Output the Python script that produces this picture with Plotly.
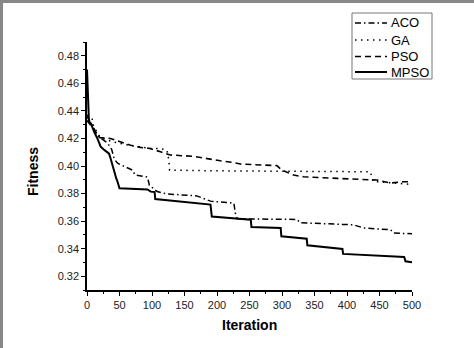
import plotly.graph_objects as go

# ---------------- data ----------------
aco_x = [0, 5, 10, 16, 24, 32, 38, 42, 47, 60, 70, 74, 93, 96, 108, 123, 169, 190, 226, 228, 231, 323, 328, 410, 426, 467, 472, 500]
aco_y = [0.436, 0.432, 0.428, 0.422, 0.419, 0.4165, 0.412, 0.405, 0.402, 0.3995, 0.397, 0.3935, 0.392, 0.386, 0.3815, 0.3797, 0.3783, 0.3745, 0.373, 0.366, 0.3617, 0.3612, 0.3588, 0.3573, 0.355, 0.3537, 0.3513, 0.3508]

ga_x = [0, 5, 8, 10, 15, 20, 30, 40, 60, 80, 97, 113, 123, 126, 127, 200, 300, 436, 440, 460, 480, 500]
ga_y = [0.437, 0.435, 0.434, 0.429, 0.425, 0.421, 0.419, 0.4175, 0.4155, 0.414, 0.4127, 0.4127, 0.4115, 0.404, 0.397, 0.3965, 0.396, 0.3958, 0.3888, 0.388, 0.3875, 0.3866]

pso_x = [0, 5, 10, 15, 20, 36, 51, 67, 82, 97, 113, 128, 164, 190, 205, 226, 236, 292, 300, 318, 333, 385, 431, 446, 467, 487, 500]
pso_y = [0.433, 0.43, 0.427, 0.424, 0.4206, 0.42, 0.4178, 0.4151, 0.4135, 0.4127, 0.4103, 0.408, 0.407, 0.4047, 0.4038, 0.4025, 0.4014, 0.4003, 0.397, 0.3934, 0.3922, 0.391, 0.3903, 0.3898, 0.3876, 0.3886, 0.3886]

mpso_x = [0, 1, 2, 3, 6, 11, 16, 21, 27, 34, 37, 42, 45, 47, 50, 93, 98, 104, 105, 190, 192, 252, 253, 298, 299, 338, 339, 393, 394, 488, 490, 500]
mpso_y = [0.47, 0.455, 0.44, 0.432, 0.431, 0.4247, 0.42, 0.414, 0.4115, 0.409, 0.4043, 0.3947, 0.391, 0.3886, 0.3838, 0.383, 0.3814, 0.3812, 0.376, 0.372, 0.3633, 0.361, 0.3557, 0.355, 0.349, 0.3472, 0.3424, 0.3398, 0.3362, 0.334, 0.3308, 0.3301]

series_names = ["ACO", "GA", "PSO", "MPSO"]

x_ticks = [0, 50, 100, 150, 200, 250, 300, 350, 400, 450, 500]
y_ticks = [0.32, 0.34, 0.36, 0.38, 0.40, 0.42, 0.44, 0.46, 0.48]

# ---------------- layout geometry (pixels) ----------------
W, H = 474, 348
PL, PR, PT, PB = 87, 412, 42, 290  # plot area edges

def px_to_paper_x(px):
    return (px - PL) / (PR - PL)

def px_to_paper_y(py):
    return (PB - py) / (PB - PT)

styles = {
    "ACO": dict(dash="6px,3px,1.5px,3px", width=1.5),
    "GA": dict(dash="1.5px,4.5px", width=1.5),
    "PSO": dict(dash="6px,4px", width=1.6),
    "MPSO": dict(dash="solid", width=2),
}

fig = go.Figure()
for name, xs, ys in zip(series_names, [aco_x, ga_x, pso_x, mpso_x], [aco_y, ga_y, pso_y, mpso_y]):
    st = styles[name]
    fig.add_trace(go.Scatter(x=xs, y=ys, mode="lines", name=name, showlegend=False,
                             line=dict(color="black", width=st["width"], dash=st["dash"])))

font_family = "Liberation Sans, Arial, sans-serif"

fig.update_layout(
    width=W, height=H,
    margin=dict(l=PL, r=W - PR, t=PT, b=H - PB),
    paper_bgcolor="white", plot_bgcolor="white",
    font=dict(family=font_family, color="#222"),
    xaxis=dict(range=[0, 500], tickvals=x_ticks, ticks="outside", ticklen=4, tickwidth=1.2,
               tickcolor="black", showline=True, linecolor="black", linewidth=1.5,
               showgrid=False, zeroline=False, tickfont=dict(size=11, color="#222"),
               minor=dict(dtick=25, tick0=0, ticks="outside", ticklen=2, tickwidth=1, tickcolor="black")),
    yaxis=dict(range=[0.31, 0.49], tickvals=y_ticks, tickformat=".2f", ticks="outside", ticklen=4,
               tickwidth=1.2, tickcolor="black", showline=True, linecolor="black", linewidth=1.5,
               showgrid=False, zeroline=False, tickfont=dict(size=11, color="#222"),
               minor=dict(dtick=0.01, tick0=0.31, ticks="outside", ticklen=2, tickwidth=1, tickcolor="black")),
    showlegend=False,
)

shapes = []
annotations = []

# axis titles
annotations.append(dict(text="<b>Iteration</b>", x=px_to_paper_x(250), y=px_to_paper_y(325),
                        xanchor="center", yanchor="middle",
                        xref="paper", yref="paper", showarrow=False, font=dict(size=14, color="black")))
annotations.append(dict(text="<b>Fitness</b>", x=px_to_paper_x(33), y=px_to_paper_y(172),
                        xanchor="center", yanchor="middle",
                        xref="paper", yref="paper", showarrow=False, textangle=-90,
                        font=dict(size=14, color="black")))

# legend box
shapes.append(dict(type="rect", xref="paper", yref="paper",
                   x0=px_to_paper_x(352), x1=px_to_paper_x(432),
                   y0=px_to_paper_y(79), y1=px_to_paper_y(13),
                   line=dict(color="#777", width=1), fillcolor="white"))
row_y = [23, 40, 56.5, 72]
for name, ry in zip(series_names, row_y):
    st = styles[name]
    shapes.append(dict(type="line", xref="paper", yref="paper",
                       x0=px_to_paper_x(355), x1=px_to_paper_x(387),
                       y0=px_to_paper_y(ry), y1=px_to_paper_y(ry),
                       line=dict(color="black", width=st["width"], dash=st["dash"])))
    annotations.append(dict(text=name, x=px_to_paper_x(389), y=px_to_paper_y(ry), xanchor="left",
                            yanchor="middle", xref="paper", yref="paper", showarrow=False,
                            font=dict(size=13, color="black")))

# gray frame on top and left edges of the image (filled bands)
shapes.append(dict(type="rect", xref="paper", yref="paper",
                   x0=px_to_paper_x(0), x1=px_to_paper_x(W), y0=px_to_paper_y(3), y1=px_to_paper_y(0),
                   line=dict(width=0), fillcolor="#888"))
shapes.append(dict(type="rect", xref="paper", yref="paper",
                   x0=px_to_paper_x(0), x1=px_to_paper_x(3), y0=px_to_paper_y(H), y1=px_to_paper_y(0),
                   line=dict(width=0), fillcolor="#888"))

fig.update_layout(shapes=shapes, annotations=annotations)
fig.write_html("out.html", config={"displayModeBar": False})
